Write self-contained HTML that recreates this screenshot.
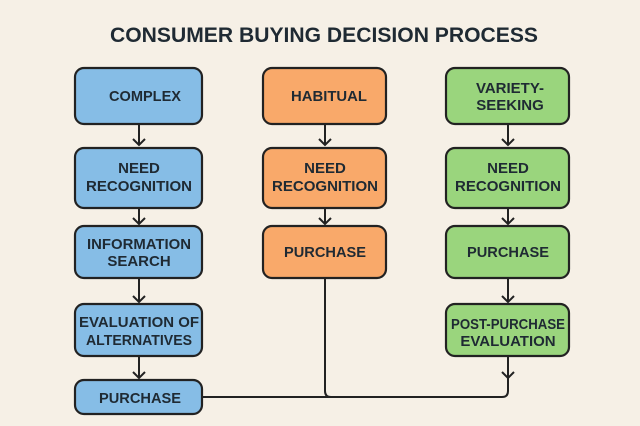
<!DOCTYPE html>
<html><head><meta charset="utf-8"><style>
html,body{margin:0;padding:0;background:#f6f0e6;}
svg{display:block;}
text{font-family:"Liberation Sans",sans-serif;font-weight:bold;fill:#1f2a33;text-anchor:middle;}
</style></head><body>
<svg width="640" height="426" viewBox="0 0 640 426" xmlns="http://www.w3.org/2000/svg">
<rect width="640" height="426" fill="#f6f0e6"/>
<text x="324" y="42" font-size="21" textLength="428" lengthAdjust="spacingAndGlyphs">CONSUMER BUYING DECISION PROCESS</text>
<g stroke="#222" stroke-width="2" fill="none">
<path d="M139 124V145M133 139l6 6 6-6"/>
<path d="M139 208V224M133 218l6 6 6-6"/>
<path d="M139 278V302M133 296l6 6 6-6"/>
<path d="M139 356V378M133 372l6 6 6-6"/>
<path d="M325 124V145M319 139l6 6 6-6"/>
<path d="M325 208V224M319 218l6 6 6-6"/>
<path d="M508 124V145M502 139l6 6 6-6"/>
<path d="M508 208V224M502 218l6 6 6-6"/>
<path d="M508 278V302M502 296l6 6 6-6"/>
<path d="M508 356V378M502 372l6 6 6-6"/>
<path d="M202 397H502Q508 397 508 391V378"/>
<path d="M325 278V391Q325 397 331 397"/>
</g>
<g stroke="#222" stroke-width="2.2">
<rect x="75" y="68" width="127" height="56" rx="9" fill="#86bde6"/>
<rect x="75" y="148" width="127" height="60" rx="9" fill="#86bde6"/>
<rect x="75" y="226" width="127" height="52" rx="9" fill="#86bde6"/>
<rect x="75" y="304" width="127" height="52" rx="9" fill="#86bde6"/>
<rect x="75" y="380" width="127" height="34" rx="9" fill="#86bde6"/>
<rect x="263" y="68" width="123" height="56" rx="9" fill="#f9a96a"/>
<rect x="263" y="148" width="123" height="60" rx="9" fill="#f9a96a"/>
<rect x="263" y="226" width="123" height="52" rx="9" fill="#f9a96a"/>
<rect x="446" y="68" width="123" height="56" rx="9" fill="#9ad57d"/>
<rect x="446" y="148" width="123" height="60" rx="9" fill="#9ad57d"/>
<rect x="446" y="226" width="123" height="52" rx="9" fill="#9ad57d"/>
<rect x="446" y="304" width="123" height="52" rx="9" fill="#9ad57d"/>
</g>
<g font-size="15">
<text x="145" y="101" textLength="72" lengthAdjust="spacingAndGlyphs">COMPLEX</text>
<text x="139" y="173">NEED</text>
<text x="139" y="191" textLength="106" lengthAdjust="spacingAndGlyphs">RECOGNITION</text>
<text x="139" y="249" textLength="104" lengthAdjust="spacingAndGlyphs">INFORMATION</text>
<text x="139" y="266">SEARCH</text>
<text x="139" y="327" textLength="120" lengthAdjust="spacingAndGlyphs">EVALUATION OF</text>
<text x="139" y="345" textLength="106" lengthAdjust="spacingAndGlyphs">ALTERNATIVES</text>
<text x="140" y="403" textLength="82" lengthAdjust="spacingAndGlyphs">PURCHASE</text>
<text x="329" y="101" textLength="76" lengthAdjust="spacingAndGlyphs">HABITUAL</text>
<text x="325" y="173">NEED</text>
<text x="325" y="191" textLength="106" lengthAdjust="spacingAndGlyphs">RECOGNITION</text>
<text x="325" y="257" textLength="82" lengthAdjust="spacingAndGlyphs">PURCHASE</text>
<text x="510" y="93">VARIETY-</text>
<text x="510" y="110">SEEKING</text>
<text x="508" y="173">NEED</text>
<text x="508" y="191" textLength="106" lengthAdjust="spacingAndGlyphs">RECOGNITION</text>
<text x="508" y="257" textLength="82" lengthAdjust="spacingAndGlyphs">PURCHASE</text>
<text x="508" y="329" textLength="114" lengthAdjust="spacingAndGlyphs">POST-PURCHASE</text>
<text x="508" y="346">EVALUATION</text>
</g>
</svg>
</body></html>
